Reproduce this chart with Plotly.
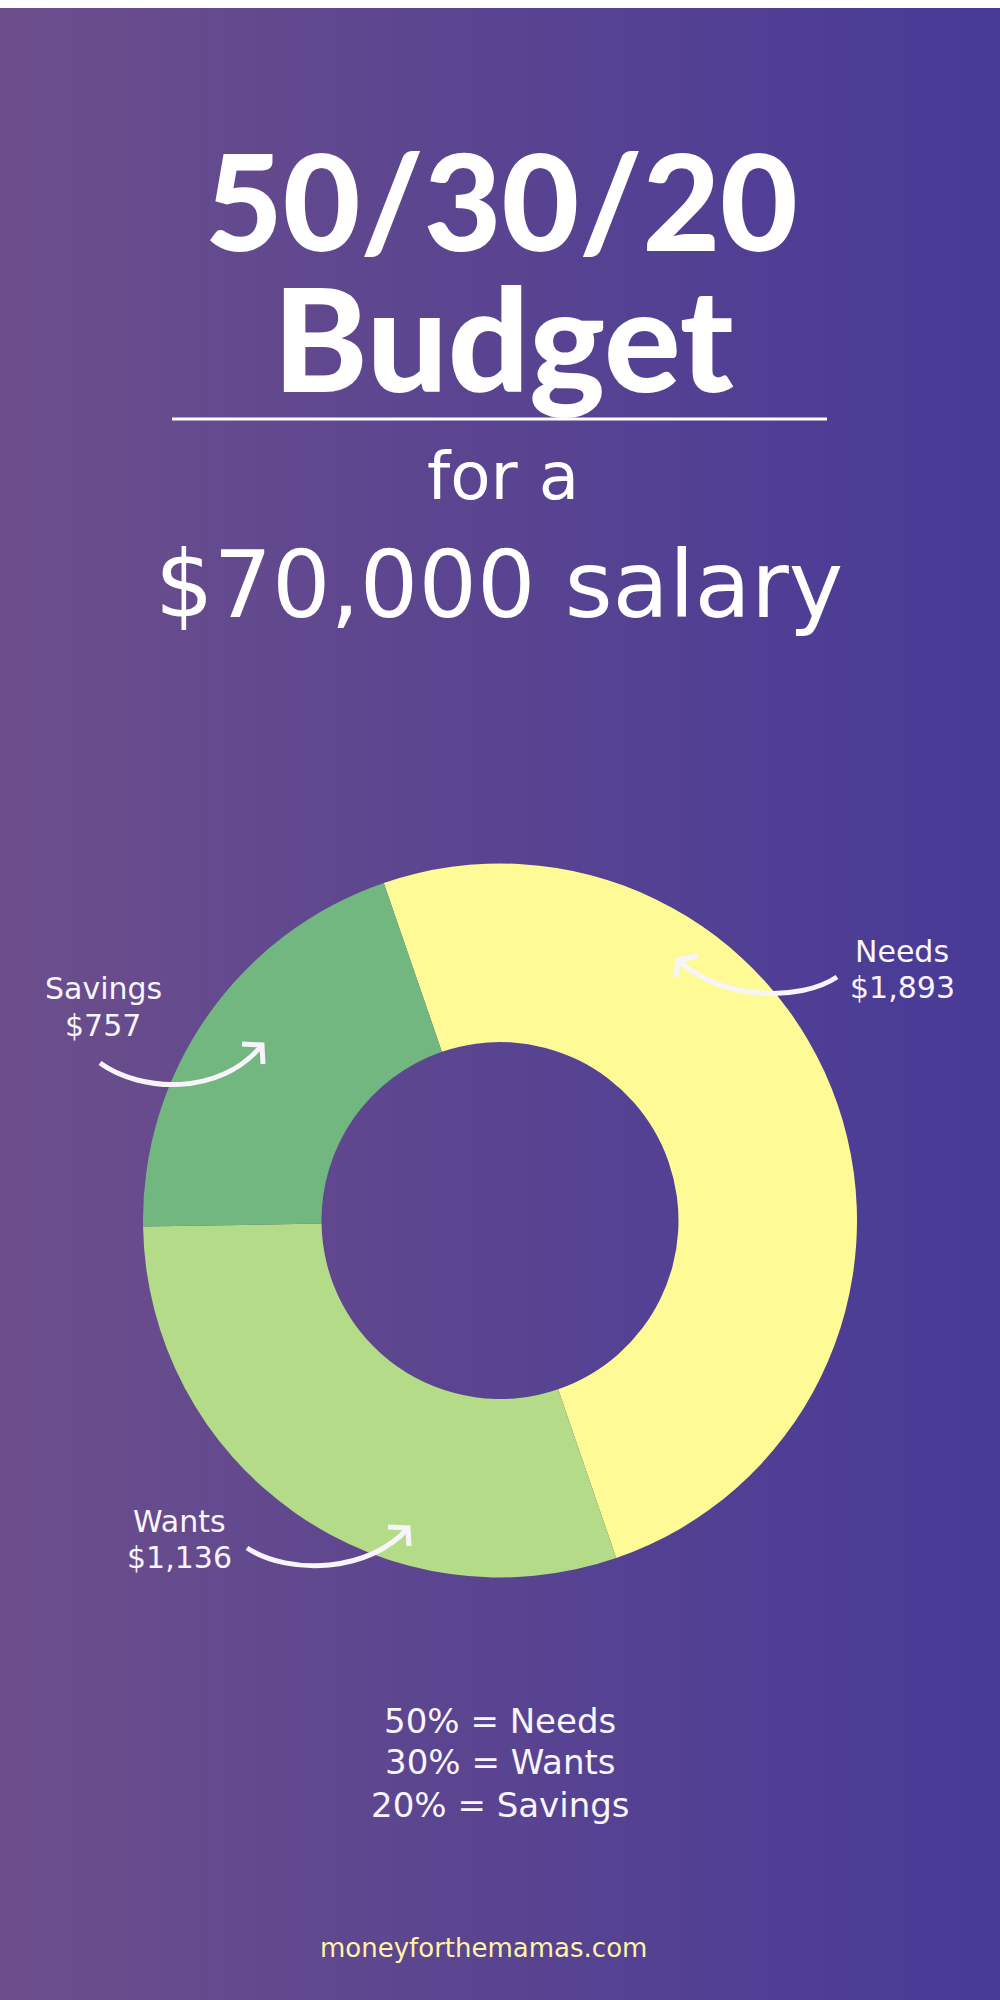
import plotly.graph_objects as go

W, H = 1000, 2000

# ---- data ----
categories = ["Needs", "Wants", "Savings"]
values = [1893, 1136, 757]
percents = [50, 30, 20]
slice_colors = ["#FEFB96", "#B3DB88", "#71B77F"]

title_line1 = "50/30/20"
title_line2 = "Budget"
subtitle_line1 = "for a"
subtitle_line2 = "$70,000 salary"
footer_text = "moneyforthemamas.com"

bg_left, bg_right = "#6C4E8B", "#473A97"
text_color = "#F8F5FC"
body_font = "DejaVu Sans"
title_font = "Lato"


def px(x):
    return x / W


def py(y):
    return 1 - y / H


fig = go.Figure()

# gradient background (heatmap spanning the page)
fig.add_trace(go.Heatmap(
    z=[[0, 1], [0, 1]], x=[0, 1], y=[0, 1], zsmooth="best",
    colorscale=[[0, bg_left], [1, bg_right]], showscale=False,
    hoverinfo="skip", xaxis="x", yaxis="y",
))

# donut
fig.add_trace(go.Pie(
    labels=categories, values=values, hole=0.5, sort=False,
    direction="clockwise", rotation=-19,
    marker=dict(colors=slice_colors, line=dict(width=0)),
    textinfo="none", showlegend=False, hoverinfo="label+value",
    domain=dict(x=[px(143), px(857)], y=[py(1578), py(863)]),
))

annotations = []


def add_text(text, x, y, size, font=body_font, color=text_color, weight=None):
    f = dict(family=font, size=size, color=color)
    if weight:
        f["weight"] = weight
    annotations.append(dict(
        text=text, x=px(x), y=py(y), xref="paper", yref="paper",
        xanchor="center", yanchor="middle", showarrow=False, font=f,
    ))


# titles
add_text(title_line1, 501, 200, 134, font=title_font, color="white", weight=900)
add_text(title_line2, 503, 337, 143, font=title_font, color="white", weight=900)
add_text(subtitle_line1, 503, 476, 66, color="white")
add_text(subtitle_line2, 499, 585, 92, color="white")

# slice labels
label_pos = {
    "Needs": (902, 951, 987),
    "Wants": (179, 1521, 1557),
    "Savings": (103, 989, 1025),
}
for cat, val in zip(categories, values):
    x, y1, y2 = label_pos[cat]
    add_text(cat, x, y1, 30)
    add_text(f"${val:,}", x, y2, 30)

# legend lines
for i, (p, cat) in enumerate(zip(percents, categories)):
    add_text(f"{p}% = {cat}", 500, [1721, 1762, 1805][i], 34)

# footer
add_text(footer_text, 483, 1948, 26, color="#FFF3A6")

shapes = []
# underline under title
shapes.append(dict(type="line", xref="paper", yref="paper",
                   x0=px(172), x1=px(827), y0=py(419), y1=py(419),
                   line=dict(color="white", width=3)))


def path_from(points, cmd):
    parts = []
    for c, pts in zip(cmd, points):
        parts.append(c + " " + " ".join(f"{px(a):.5f},{py(b):.5f}" for a, b in pts))
    return " ".join(parts)


arrow_color = "#F7F4FB"
arrows = [
    # (curve start, c1, c2, end, arm1, arm2)
    ((100, 1063), (140, 1092), (220, 1097), (262, 1045), (242, 1044), (263, 1064)),
    ((837, 977), (800, 1002), (720, 1000), (678, 960), (698, 956), (676, 977)),
    ((247, 1548), (290, 1576), (370, 1572), (408, 1528), (388, 1527), (409, 1546)),
]
for s, c1, c2, e, a1, a2 in arrows:
    p = path_from([[s], [c1, c2, e]], ["M", "C"])
    shapes.append(dict(type="path", xref="paper", yref="paper", path=p,
                       line=dict(color=arrow_color, width=5)))
    p2 = path_from([[a1], [e], [a2]], ["M", "L", "L"])
    shapes.append(dict(type="path", xref="paper", yref="paper", path=p2,
                       line=dict(color=arrow_color, width=5)))

fig.update_layout(
    width=W, height=H,
    margin=dict(l=0, r=0, t=0, b=0),
    paper_bgcolor="white", plot_bgcolor="rgba(0,0,0,0)",
    xaxis=dict(domain=[0, 1], range=[0, 1], visible=False, fixedrange=True),
    yaxis=dict(domain=[0, 1 - 8 / H], range=[0, 1], visible=False, fixedrange=True),
    annotations=annotations, shapes=shapes,
    showlegend=False,
)

fig.write_html("out.html")
